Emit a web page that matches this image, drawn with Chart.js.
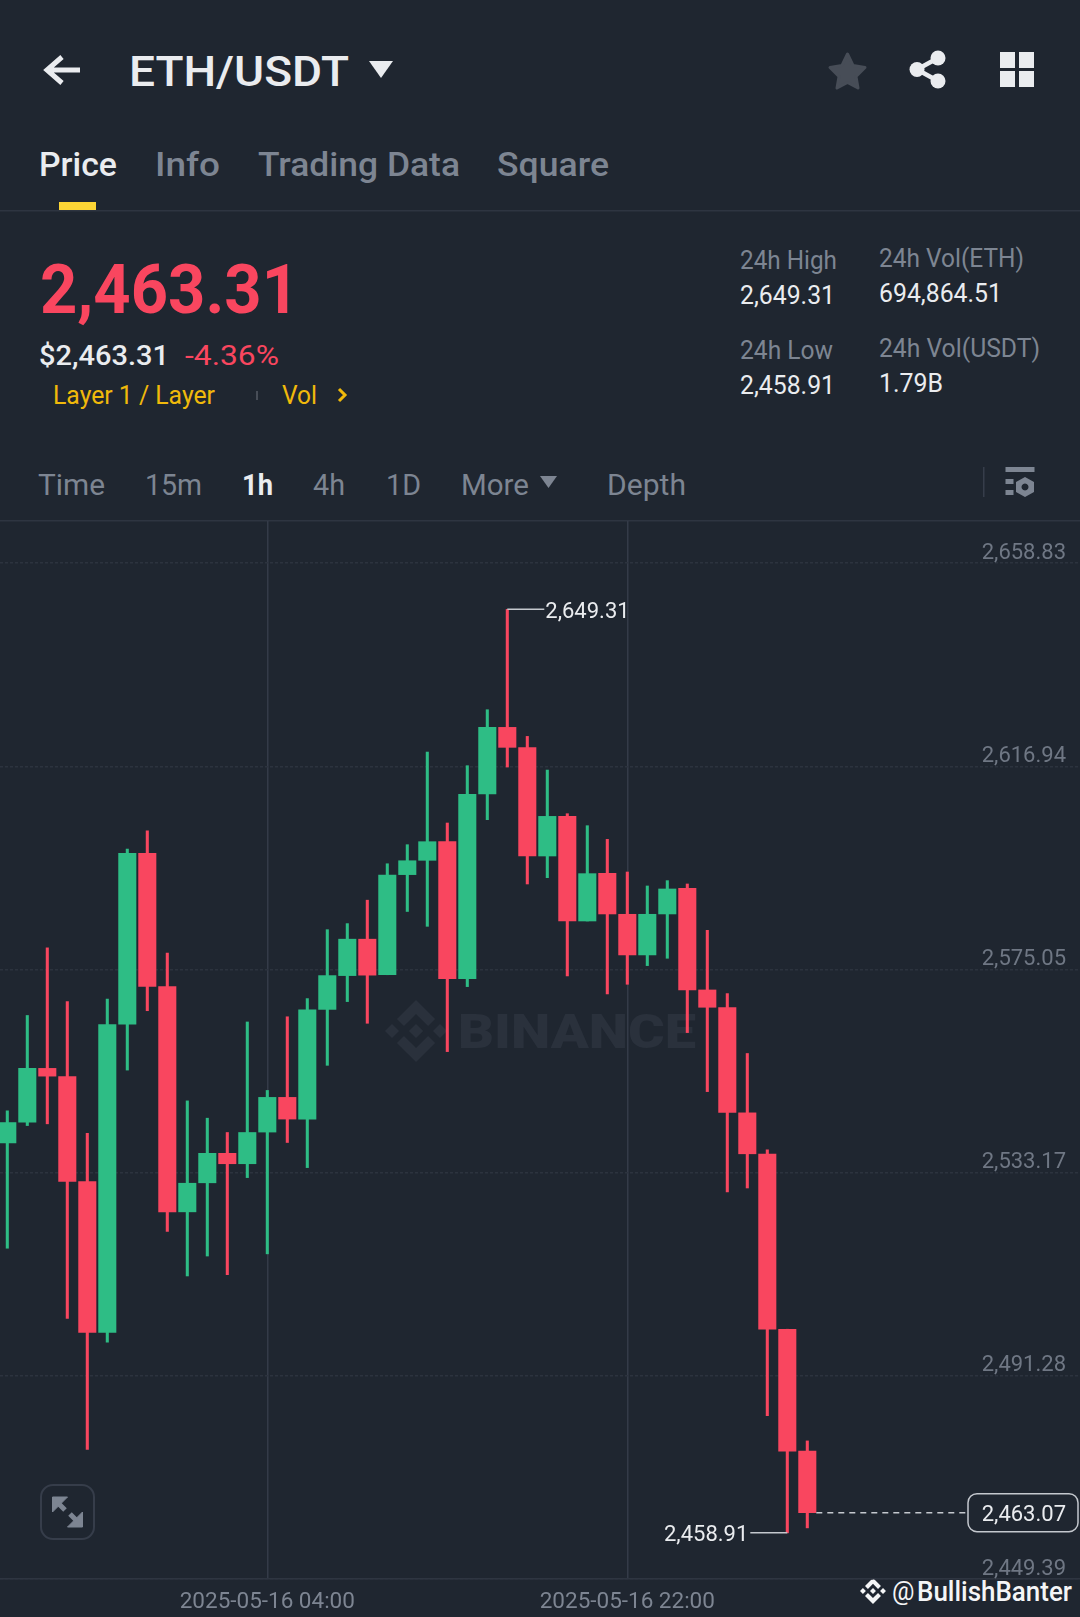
<!DOCTYPE html>
<html>
<head>
<meta charset="utf-8">
<title>ETH/USDT</title>
<script src="https://cdn.jsdelivr.net/npm/chart.js@4"></script>
<style>
    html, body { margin: 0; padding: 0; background: #1f2630; }
    #page { position: relative; width: 1080px; height: 1617px; overflow: hidden; background: #1f2630; }
    #page svg { position: absolute; left: 0; top: 0; }
    #page canvas { position: absolute; left: 0; top: 521px; }
    text { font-family: Roboto, sans-serif; }
</style>
</head>
<body>
<div id="page">
<svg width="1080" height="1617" viewBox="0 0 1080 1617">
    <defs>
        <g id="bnb">
            <path d="M38.73 53.2l24.59-24.58 24.6 24.6 14.3-14.31L63.32 0 24.42 38.9z"/>
            <path d="M0 63.31l14.3-14.31 14.31 14.31-14.31 14.3z"/>
            <path d="M38.73 73.41l24.59 24.59 24.6-24.6 14.31 14.29-38.9 38.91-38.91-38.88z"/>
            <path d="M98 63.31l14.3-14.31 14.31 14.3-14.31 14.32z"/>
            <path d="M77.83 63.3L63.32 48.78 48.81 63.28l14.51 14.5z"/>
        </g>
    </defs>

    <!-- top bar -->
    <path d="M80 70H48M62 57L47 70L62 83" fill="none" stroke="#eaecef" stroke-width="5"/>
    <text x="129" y="86" font-size="42" font-weight="500" fill="#eaecef" textLength="220">ETH/USDT</text>
    <path d="M369 61H393L381 78Z" fill="#eaecef"/>
    <path d="M847.5 54L853 65.5L865 67.5L856 76.5L858 88L847.5 82.5L837 88L839 76.5L830 67.5L842 65.5Z" fill="#474d57" stroke="#474d57" stroke-width="3" stroke-linejoin="round"/>
    <path d="M938 58L917 69.5L938 81" fill="none" stroke="#eaecef" stroke-width="4.5"/>
    <g fill="#eaecef">
        <circle cx="917" cy="69.5" r="7.5"/><circle cx="938" cy="58" r="7.5"/><circle cx="938" cy="81" r="7.5"/>
    </g>
    <g fill="#eaecef">
        <rect x="1000" y="52" width="15" height="16"/><rect x="1019" y="52" width="15" height="16"/>
        <rect x="1000" y="71" width="15" height="16"/><rect x="1019" y="71" width="15" height="16"/>
    </g>

    <!-- tabs -->
    <g font-size="33" font-weight="500" fill="#7d8592">
        <text x="39" y="176" fill="#eaecef" textLength="78">Price</text>
        <text x="155" y="176" textLength="65">Info</text>
        <text x="258" y="176" textLength="202">Trading Data</text>
        <text x="497" y="176" textLength="112">Square</text>
    </g>
    <rect x="59" y="202" width="37" height="8" fill="#fcd535"/>
    <rect x="0" y="210" width="1080" height="1.5" fill="#2e3541"/>

    <!-- price block -->
    <text x="40" y="313" font-size="68" font-weight="700" fill="#f9465f" textLength="259">2,463.31</text>
    <text x="39" y="365" font-size="28" font-weight="500" fill="#eaecef" textLength="130">$2,463.31</text>
    <text x="185" y="365" font-size="28" font-weight="400" fill="#f9465f" textLength="94">-4.36%</text>
    <g font-size="25" fill="#f0b90b">
        <text x="53" y="404" textLength="162">Layer 1 / Layer</text>
        <text x="282" y="404" textLength="35">Vol</text>
    </g>
    <rect x="256" y="391" width="2" height="9" fill="#474d57"/>
    <path d="M339 389L345 395L339 401" fill="none" stroke="#f0b90b" stroke-width="3"/>

    <!-- 24h stats -->
    <g font-size="25" fill="#7d8592">
        <text x="740" y="269" textLength="97">24h High</text>
        <text x="879" y="267" textLength="145">24h Vol(ETH)</text>
        <text x="740" y="359" textLength="93">24h Low</text>
        <text x="879" y="357" textLength="161">24h Vol(USDT)</text>
    </g>
    <g font-size="25" fill="#eaecef">
        <text x="740" y="304" textLength="95">2,649.31</text>
        <text x="879" y="302" textLength="123">694,864.51</text>
        <text x="740" y="394" textLength="95">2,458.91</text>
        <text x="879" y="392" textLength="64">1.79B</text>
    </g>

    <!-- interval bar -->
    <g font-size="29" fill="#7d8592">
        <text x="38" y="495" textLength="67">Time</text>
        <text x="145" y="495" textLength="57">15m</text>
        <text x="242" y="495" font-weight="700" fill="#eaecef" textLength="31">1h</text>
        <text x="313" y="495" textLength="32">4h</text>
        <text x="386" y="495" textLength="35">1D</text>
        <text x="461" y="495" textLength="68">More</text>
        <text x="607" y="495" textLength="79">Depth</text>
    </g>
    <path d="M540 476H557L548.5 488Z" fill="#7d8592"/>
    <rect x="983" y="467" width="1.5" height="30" fill="#363d4a"/>
    <g fill="#7d8592">
        <rect x="1005.5" y="467" width="29" height="5"/>
        <rect x="1005.5" y="479" width="8" height="5"/>
        <rect x="1005.5" y="490" width="8" height="5"/>
        <path fill-rule="evenodd" d="M1025 477L1034 482V492L1025 497L1016 492V482ZM1025 483.5a3.5 3.5 0 1 0 .01 0Z"/>
    </g>
    <rect x="0" y="520" width="1080" height="1.5" fill="#2e3541"/>

    <!-- watermark -->
    <use href="#bnb" transform="translate(385 1000) scale(0.49)" fill="#2a313c"/>
    <text x="458" y="1048" font-size="49" font-weight="900" fill="#2a313c" textLength="238">BINANCE</text>

    <!-- expand button -->
    <rect x="41" y="1485" width="53" height="54" rx="12" fill="none" stroke="#363d4a" stroke-width="2"/>
    <g fill="#7d8592" stroke="#7d8592">
        <path d="M52.5 1497H67.5L52.5 1512Z"/>
        <path d="M82.5 1527H67.5L82.5 1512Z"/>
        <path d="M58 1503L65 1510M70 1514L77 1521" fill="none" stroke-width="5"/>
    </g>

    <!-- credit -->
    <use href="#bnb" transform="translate(860 1578) scale(0.205)" fill="#f4f5f6"/>
    <text x="892" y="1600" font-size="25" fill="#f4f5f6">@</text>
    <text x="917" y="1601" font-size="27" font-weight="500" fill="#f4f5f6" textLength="155">BullishBanter</text>
</svg>
<canvas id="chart" width="1080" height="1096"></canvas>
</div>

<script>
// hourly candles, first one is 05-15 15:00
const opens = [2539.30, 2543.59, 2554.67, 2552.98, 2531.35, 2500.25, 2563.79, 2599.00, 2571.56, 2525.09,
    2531.08, 2537.16, 2535.01, 2541.54, 2548.69, 2544.22, 2566.83, 2573.80, 2581.31, 2573.98,
    2594.62, 2597.57, 2601.41, 2573.18, 2611.24, 2624.98, 2620.79, 2598.46, 2606.63, 2585.06,
    2594.89, 2586.44, 2578.06, 2586.51, 2591.80, 2570.84, 2567.20, 2545.50, 2537.00, 2500.89, 2475.75];
const closes = [2543.50, 2554.67, 2553.07, 2531.35, 2500.25, 2563.70, 2599.00, 2571.56, 2525.09, 2530.99,
    2537.16, 2535.01, 2541.45, 2548.69, 2544.22, 2566.74, 2573.80, 2581.31, 2573.89, 2594.53,
    2597.48, 2601.41, 2573.18, 2611.17, 2624.98, 2620.86, 2598.46, 2606.63, 2585.06, 2594.82,
    2586.51, 2578.06, 2586.44, 2591.66, 2570.84, 2567.27, 2545.58, 2537.06, 2500.89, 2475.75, 2463.07];
const highs = [2545.92, 2565.58, 2579.52, 2568.44, 2541.27, 2568.97, 2599.89, 2603.65, 2578.45, 2547.97,
    2544.40, 2541.45, 2564.24, 2550.12, 2565.31, 2569.06, 2583.27, 2584.52, 2589.35, 2596.86,
    2600.79, 2619.89, 2605.26, 2617.08, 2628.62, 2649.31, 2623.12, 2616.18, 2607.18, 2604.71,
    2601.89, 2595.16, 2592.28, 2593.38, 2592.69, 2583.14, 2570.09, 2557.74, 2537.87, 2500.89, 2477.86];
const lows = [2517.59, 2542.88, 2543.24, 2503.11, 2476.12, 2498.20, 2554.32, 2566.56, 2521.07, 2511.87,
    2515.98, 2512.14, 2532.15, 2516.43, 2539.39, 2534.21, 2555.30, 2568.44, 2563.97, 2573.98,
    2587.02, 2583.96, 2558.13, 2571.53, 2605.95, 2616.80, 2592.69, 2593.99, 2573.73, 2585.06,
    2570.02, 2572.01, 2575.86, 2577.37, 2562.05, 2549.88, 2529.20, 2530.01, 2483.05, 2458.91, 2459.93];

const priceTicks = [2658.83, 2616.94, 2575.05, 2533.17, 2491.28, 2449.39];
const timeTickIndexes = [13, 31];
const timeTickLabels = ["2025-05-16 04:00", "2025-05-16 22:00"];

const highIndex = 25, highPrice = 2649.31;
const lowIndex = 39, lowPrice = 2458.91;
const lastIndex = 40, lastPrice = 2463.07;

const GREEN = "#2ebd85";
const RED = "#f9465f";
const FONT = { family: "Roboto, sans-serif", size: 22.5 };

// stretch glyphs to the measured widths
document.querySelectorAll("text[textLength]").forEach(t => t.setAttribute("lengthAdjust", "spacingAndGlyphs"));

const fmt = v => v.toLocaleString("en-US", { minimumFractionDigits: 2, maximumFractionDigits: 2 });
const candleColors = opens.map((o, i) => closes[i] >= o ? GREEN : RED);

// high / low / last price markers
const markers = {
    id: "markers",
    afterDraw(chart) {
        const { ctx, scales: { x, y } } = chart;
        ctx.save();
        ctx.font = "22px Roboto, sans-serif";
        ctx.textBaseline = "middle";
        ctx.lineWidth = 1.5;
        ctx.strokeStyle = "#c4c8ce";
        ctx.fillStyle = "#eaecef";

        const hx = x.getPixelForValue(highIndex), hy = y.getPixelForValue(highPrice);
        ctx.beginPath(); ctx.moveTo(hx, hy); ctx.lineTo(hx + 37, hy); ctx.stroke();
        ctx.textAlign = "left";
        ctx.fillText(fmt(highPrice), hx + 38, hy + 3);

        const lx = x.getPixelForValue(lowIndex), ly = y.getPixelForValue(lowPrice);
        ctx.beginPath(); ctx.moveTo(lx, ly); ctx.lineTo(lx - 37, ly); ctx.stroke();
        ctx.textAlign = "right";
        ctx.fillText(fmt(lowPrice), lx - 39, ly + 3);

        const px = x.getPixelForValue(lastIndex) + 9, py = y.getPixelForValue(lastPrice);
        ctx.setLineDash([6, 5]);
        ctx.beginPath(); ctx.moveTo(px, py); ctx.lineTo(968, py); ctx.stroke();
        ctx.setLineDash([]);
        ctx.beginPath();
        ctx.roundRect(968, py - 19, 110, 38, 9);
        ctx.fillStyle = "#1f2630";
        ctx.fill();
        ctx.stroke();
        ctx.fillStyle = "#eaecef";
        ctx.fillText(fmt(lastPrice), 1066, py + 3);
        ctx.restore();
    }
};

new Chart(document.getElementById("chart"), {
    type: "bar",
    data: {
        datasets: [
            {
                label: "wick",
                data: highs.map((h, i) => ({ x: i, y: [lows[i], h] })),
                backgroundColor: candleColors,
                barThickness: 2.4,
                borderSkipped: false,
                order: 2
            },
            {
                label: "body",
                data: opens.map((o, i) => ({ x: i, y: [o, closes[i]] })),
                backgroundColor: candleColors,
                barThickness: 17.4,
                borderSkipped: false,
                order: 1
            }
        ]
    },
    options: {
        responsive: false,
        animation: false,
        devicePixelRatio: 1,
        layout: { padding: 0 },
        plugins: { legend: { display: false }, tooltip: { enabled: false } },
        datasets: { bar: { grouped: false } },
        scales: {
            x: {
                type: "linear",
                offset: false,
                min: -0.365,
                max: 53.635,
                afterBuildTicks: s => { s.ticks = timeTickIndexes.map(v => ({ value: v })); },
                afterFit: s => { s.height = 38; s.paddingLeft = 0; s.paddingRight = 0; },
                grid: { offset: false, color: "#343b48", lineWidth: 1.5, drawTicks: false },
                border: { color: "#2e3541", width: 1.5 },
                ticks: {
                    font: FONT,
                    color: "#7d8592",
                    padding: 10,
                    maxRotation: 0,
                    autoSkip: false,
                    callback: v => timeTickLabels[timeTickIndexes.indexOf(v)]
                }
            },
            y: {
                position: "right",
                min: 2449.39,
                max: 2667.53,
                afterBuildTicks: s => { s.ticks = priceTicks.map(v => ({ value: v })); },
                afterFit: s => { s.width = 0; s.paddingTop = 0; s.paddingBottom = 0; },
                grid: { color: "#2c333e", lineWidth: 1.5, drawTicks: false },
                border: { display: false, dash: [3, 2] },
                ticks: {
                    mirror: true,
                    font: { family: "Roboto, sans-serif", size: 22 },
                    color: "#6f7784",
                    padding: -14,
                    labelOffset: -10,
                    callback: v => fmt(v)
                }
            }
        }
    },
    plugins: [markers]
});
</script>
</body>
</html>
